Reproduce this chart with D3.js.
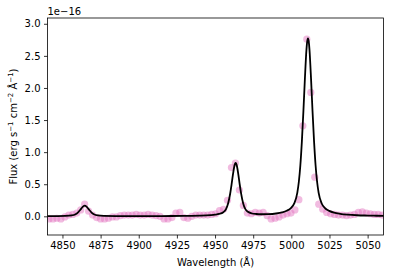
<!DOCTYPE html>
<html>
<head>
<meta charset="utf-8">
<script src="https://cdn.jsdelivr.net/npm/d3@7"></script>
<style>
  html, body { margin: 0; padding: 0; background: #fff; }
  svg { display: block; }
  text { font-family: "DejaVu Sans", sans-serif; fill: #000; }
</style>
</head>
<body>
<svg id="chart" width="394" height="277"></svg>
<script>
// Observed spectrum (wavelength in Å, flux in units of 1e-16 erg s^-1 cm^-2 Å^-1)
const obsWave = [4838.55, 4841.15, 4843.75, 4846.35, 4848.95, 4851.55, 4854.15, 4856.75, 4859.35, 4861.95,
  4864.55, 4867.15, 4869.75, 4872.35, 4874.95, 4877.55, 4880.15, 4882.75, 4885.35, 4887.95,
  4890.55, 4893.15, 4895.75, 4898.35, 4900.95, 4903.55, 4906.15, 4908.75, 4911.35, 4913.95,
  4916.55, 4919.15, 4921.75, 4924.35, 4926.95, 4929.55, 4932.15, 4934.75, 4937.35, 4939.95,
  4942.55, 4945.15, 4947.75, 4950.35, 4952.95, 4955.55, 4958.15, 4960.75, 4963.35, 4965.95,
  4968.55, 4971.15, 4973.75, 4976.35, 4978.95, 4981.55, 4984.15, 4986.75, 4989.35, 4991.95,
  4994.55, 4997.15, 4999.75, 5002.35, 5004.95, 5007.55, 5010.15, 5012.75, 5015.35, 5017.95,
  5020.55, 5023.15, 5025.75, 5028.35, 5030.95, 5033.55, 5036.15, 5038.75, 5041.35, 5043.95,
  5046.55, 5049.15, 5051.75, 5054.35, 5056.95, 5059.55, 5062.15];
const obsFlux = [-0.03, -0.04, -0.04, -0.03, -0.04, -0.01, 0.02, 0.03, 0.05, 0.10,
  0.19, 0.08, 0.02, -0.02, -0.04, -0.04, -0.03, -0.01, -0.01, 0.01,
  0.02, 0.02, 0.02, 0.03, 0.02, 0.02, 0.03, 0.02, 0.01, 0.00,
  -0.04, -0.04, -0.02, 0.05, 0.06, -0.02, -0.03, 0.00, 0.02, 0.02,
  0.02, 0.02, 0.03, 0.04, 0.09, 0.11, 0.25, 0.76, 0.83, 0.41,
  0.17, 0.05, 0.04, 0.06, 0.05, 0.06, 0.01, -0.04, -0.03, -0.01,
  0.02, 0.04, 0.05, 0.10, 0.26, 1.41, 2.76, 1.93, 0.61, 0.19,
  0.11, 0.06, 0.04, 0.03, 0.02, 0.02, 0.01, 0.02, 0.03, 0.06,
  0.07, 0.05, 0.04, 0.03, 0.03, 0.02, 0.02];

// Fitted model curve
const fitWave = [4838, 4845, 4852, 4856, 4858.6, 4860.1, 4861.6, 4862.6, 4863.6, 4864.6,
  4865.6, 4866.6, 4867.6, 4869.1, 4870.6, 4873.2, 4877.2, 4885, 4900, 4915,
  4930, 4940, 4947, 4950, 4952.7, 4955.4, 4957.2, 4958.55, 4959.9, 4960.8,
  4961.7, 4962.6, 4963.5, 4964.4, 4965.3, 4966.2, 4967.1, 4968.45, 4969.8, 4971.6,
  4974.3, 4977, 4980, 4985, 4990, 4994, 4997, 4999.5, 5001.9, 5003.9,
  5004.9, 5005.9, 5006.9, 5007.9, 5008.9, 5009.9, 5010.4, 5010.9, 5011.4, 5011.9,
  5012.9, 5013.9, 5014.9, 5015.9, 5016.9, 5017.9, 5019.9, 5022.3, 5024.8, 5028,
  5032, 5037, 5043, 5050, 5056, 5063];
const fitFlux = [0.002, 0.004, 0.007, 0.014, 0.033, 0.058, 0.098, 0.129, 0.155, 0.166,
  0.155, 0.129, 0.098, 0.058, 0.033, 0.014, 0.007, 0.004, 0.003, 0.004,
  0.007, 0.011, 0.019, 0.026, 0.037, 0.064, 0.113, 0.199, 0.352, 0.491,
  0.645, 0.777, 0.831, 0.777, 0.646, 0.492, 0.353, 0.200, 0.115, 0.070,
  0.044, 0.036, 0.032, 0.034, 0.044, 0.062, 0.087, 0.124, 0.201, 0.366,
  0.535, 0.792, 1.164, 1.632, 2.150, 2.593, 2.726, 2.773, 2.726, 2.593,
  2.150, 1.632, 1.164, 0.792, 0.535, 0.366, 0.200, 0.122, 0.085, 0.057,
  0.039, 0.026, 0.017, 0.012, 0.009, 0.007];

const xTicks = [4850, 4875, 4900, 4925, 4950, 4975, 5000, 5025, 5050];
const yTicks = [0.0, 0.5, 1.0, 1.5, 2.0, 2.5, 3.0];
const xDomain = [4840.2, 5060.4];
const yDomain = [-0.291, 3.09];

const svg = d3.select("#chart");
const L = 47.5, R = 383.5, T = 18, B = 235;

const x = d3.scaleLinear().domain(xDomain).range([L, R]);
const y = d3.scaleLinear().domain(yDomain).range([B, T]);

svg.append("defs").append("clipPath").attr("id", "clip")
  .append("rect").attr("x", L).attr("y", T).attr("width", R - L).attr("height", B - T);

const plot = svg.append("g").attr("clip-path", "url(#clip)");

const obs = obsWave.map((w, i) => ({w, f: obsFlux[i]}));
plot.selectAll("circle").data(obs).enter().append("circle")
  .attr("cx", d => x(d.w)).attr("cy", d => y(d.f)).attr("r", 3.6)
  .attr("fill", "#e377c2").attr("fill-opacity", 0.5);

const fit = fitWave.map((w, i) => ({w, f: fitFlux[i]}));
plot.append("path").datum(fit)
  .attr("d", d3.line().x(d => x(d.w)).y(d => y(d.f)).curve(d3.curveMonotoneX))
  .attr("fill", "none").attr("stroke", "#000").attr("stroke-width", 1.8)
  .attr("stroke-linejoin", "round");

// Axes
const xAxis = d3.axisBottom(x).tickValues(xTicks).tickFormat(d3.format("d"))
  .tickSize(3.5).tickPadding(3.5);
const yAxis = d3.axisLeft(y).tickValues(yTicks).tickFormat(d3.format(".1f"))
  .tickSize(3.5).tickPadding(3.5);

const gx = svg.append("g").attr("transform", `translate(0,${B})`).call(xAxis);
const gy = svg.append("g").attr("transform", `translate(${L},0)`).call(yAxis);
[gx, gy].forEach(g => {
  g.select(".domain").remove();
  g.selectAll(".tick line").attr("stroke", "#000").attr("stroke-width", 0.8);
  g.selectAll(".tick text").attr("font-size", "10px").attr("font-family", "DejaVu Sans").attr("fill", "#000");
});

// Frame (spines)
svg.append("rect").attr("x", L).attr("y", T).attr("width", R - L).attr("height", B - T)
  .attr("fill", "none").attr("stroke", "#000").attr("stroke-width", 0.8);

// Offset text
svg.append("text").attr("x", L).attr("y", 15).attr("font-size", "10px").text("1e\u221216");

// X label
svg.append("text").attr("x", (L + R) / 2).attr("y", 265.5).attr("text-anchor", "middle")
  .attr("font-size", "10px").text("Wavelength (\u00c5)");

// Y label with superscripts
const yl = svg.append("text").attr("transform", `translate(17,${(T + B) / 2}) rotate(-90)`)
  .attr("text-anchor", "middle").attr("font-size", "10px");
const parts = [["Flux (erg s", false], ["\u22121", true], [" cm", false], ["\u22122", true],
  [" \u00c5", false], ["\u22121", true], [")", false]];
parts.forEach(([t, sup]) => {
  const ts = yl.append("tspan").text(t);
  if (sup) ts.attr("font-size", "7px").attr("dy", "-4");
  else ts.attr("dy", t === "Flux (erg s" ? "0" : "4");
});
</script>
</body>
</html>
